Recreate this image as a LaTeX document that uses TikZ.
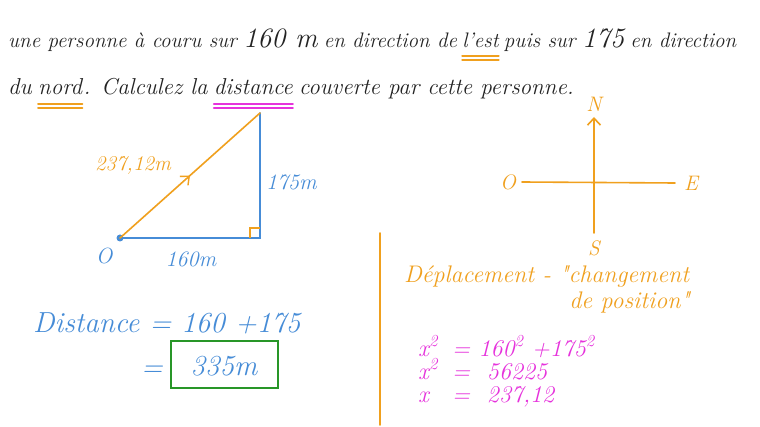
\documentclass[tikz,border=0pt]{standalone}
\usetikzlibrary{arrows.meta,decorations.markings}
\definecolor{hOrange}{RGB}{240,160,30}
\definecolor{hBlue}{RGB}{70,140,215}
\definecolor{hPink}{RGB}{230,50,220}
\definecolor{hGreen}{RGB}{40,150,40}
\definecolor{hBlack}{RGB}{35,35,35}
\begin{document}
\begin{tikzpicture}[x=1pt,y=-1pt,
  hw/.style={inner sep=0pt, font=\fontsize{21}{24}\selectfont\itshape, text=hBlack},
  hwb/.style={inner sep=0pt, font=\fontsize{23}{26}\selectfont\itshape, text=hBlack},
  big/.style={inner sep=0pt, font=\fontsize{28}{30}\selectfont\itshape, text=hBlack},
  uline/.style={line width=1.8pt, line cap=round},
  blueline/.style={draw=hBlue, line width=1.6pt, line cap=round},
  orline/.style={draw=hOrange, line width=1.6pt, line cap=round},
  lblB/.style={inner sep=0pt, font=\fontsize{22}{24}\selectfont\itshape, text=hBlue},
  lblO/.style={inner sep=0pt, font=\fontsize{21}{24}\selectfont\itshape, text=hOrange},
  bigB/.style={inner sep=0pt, font=\fontsize{29}{32}\selectfont\itshape, text=hBlue},
  bigO/.style={inner sep=0pt, font=\fontsize{24}{28}\selectfont\itshape, text=hOrange},
  eqP/.style={inner sep=0pt, font=\fontsize{24}{26}\selectfont\itshape, text=hPink},
  arrowmid/.style={postaction={decorate}, decoration={markings, mark=at position 0.5 with {\arrow[line width=1.4pt]{Straight Barb[length=7pt,width=12pt]}}}}
]
\useasboundingbox (0,0) rectangle (760,427);
\fill[white] (0,0) rectangle (760,427);

% --- Problem text line 1
\node[hw, anchor=base west] (t1a) at (8,48) {une personne à couru sur};
\node[big, anchor=base west] (t1b) at ([xshift=6pt]t1a.base east) {160 m};
\node[hw, anchor=base west] (t1c) at ([xshift=6pt]t1b.base east) {en direction de};
\node[hw, anchor=base west] (t1d) at ([xshift=5pt]t1c.base east) {l'est};
\node[hw, anchor=base west] (t1e) at ([xshift=5pt]t1d.base east) {puis sur};
\node[big, anchor=base west] (t1f) at ([xshift=6pt]t1e.base east) {175};
\node[hw, anchor=base west] (t1g) at ([xshift=6pt]t1f.base east) {en direction};
% --- line 2
\node[hwb, anchor=base west] (t2a) at (8,95) {du};
\node[hwb, anchor=base west] (t2b) at ([xshift=6pt]t2a.base east) {nord};
\node[hwb, anchor=base west] (t2c) at ([xshift=1pt]t2b.base east) {. Calculez la};
\node[hwb, anchor=base west] (t2d) at ([xshift=6pt]t2c.base east) {distance};
\node[hwb, anchor=base west] (t2e) at ([xshift=6pt]t2d.base east) {couverte par cette personne.};
% underlines
\draw[uline, hOrange] ([yshift=-8pt]t1d.base west) -- ([yshift=-8pt]t1d.base east);
\draw[uline, hOrange] ([yshift=-12pt]t1d.base west) -- ([yshift=-12pt]t1d.base east);
\draw[uline, hOrange] ([yshift=-9pt]t2b.base west) -- ([yshift=-9pt]t2b.base east);
\draw[uline, hOrange] ([yshift=-13pt]t2b.base west) -- ([yshift=-13pt]t2b.base east);
\draw[uline, hPink] ([yshift=-9pt]t2d.base west) -- ([yshift=-9pt]t2d.base east);
\draw[uline, hPink] ([yshift=-13pt]t2d.base west) -- ([yshift=-13pt]t2d.base east);

% --- Triangle
\coordinate (O) at (120,238);
\coordinate (R) at (260,238);
\coordinate (T) at (260,113);
\draw[blueline] (O) -- (R) -- (T);
\fill[hBlue] (O) circle (3.5pt);
\draw[orline, arrowmid] (O) -- (T);
\draw[draw=hOrange, line width=1.2pt] ([xshift=-10pt]R) -- ++(0,-10) -- ++(10,0);
\node[lblO, anchor=west] (hyp) at (95,166) {237,12m};
\node[lblB, anchor=west] (sv) at (266,182) {175m};
\node[lblB] (sh) at (191,259) {160m};
\node[lblB] (oo) at (104,256) {O};

% --- Compass
\coordinate (C) at (594,182);
\coordinate (Cw) at (522,182);
\coordinate (Ce) at (675,183);
\coordinate (Cn) at (594,117);
\coordinate (Cs) at (594,233);
\draw[orline] (Cw) -- (Ce);
\draw[orline, -{Straight Barb[length=7pt,width=13pt]}] (Cs) -- (Cn);
\node[lblO] (nN) at (594,104) {N};
\node[lblO] (nO) at (508,182) {O};
\node[lblO] (nE) at (691,183) {E};
\node[lblO] (nS) at (594,248) {S};

% --- Divider
\coordinate (V1) at (380,233);
\coordinate (V2) at (380,425);
\draw[orline] (V1) -- (V2);

% --- Distance
\node[bigB, anchor=base west] (dist) at (33,333) {Distance = 160 +175};
\node[bigB, anchor=base east] (eq2) at (163,376) {=};
\node[bigB] (res) at (224,366) {335m};
\draw[draw=hGreen, line width=1.8pt] (171,341) rectangle (278,388);

% --- Deplacement
\node[bigO, anchor=base west] (dep) at (404,283) {Déplacement - \textquotedbl changement};
\node[bigO, anchor=base east] (pos) at (690,309) {de position\textquotedbl};

% --- Equations
\node[eqP, anchor=base west] (e1x) at (418,356) {x\textsuperscript{2}};
\node[eqP, anchor=base west] (e1r) at (452,356) {= 160\textsuperscript{2} +175\textsuperscript{2}};
\node[eqP, anchor=base west] (e2x) at (418,379) {x\textsuperscript{2}};
\node[eqP, anchor=base west] (e2r) at (452,379) {= \ 56225};
\node[eqP, anchor=base west] (e3x) at (418,402) {x};
\node[eqP, anchor=base west] (e3r) at (452,402) {= \ 237,12};
\end{tikzpicture}
\end{document}
